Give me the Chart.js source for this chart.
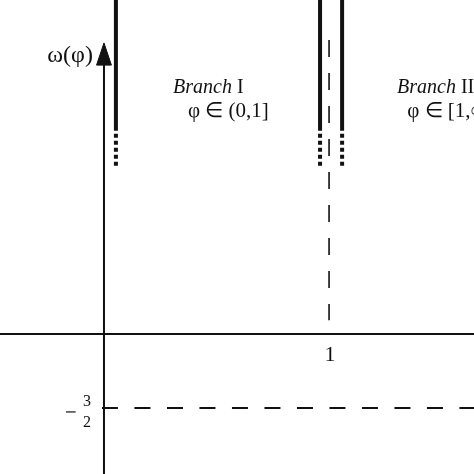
<!DOCTYPE html>
<html>
<head>
<meta charset="utf-8">
<script src="https://cdn.jsdelivr.net/npm/chart.js@4.4.1/dist/chart.umd.min.js"></script>
<style>
  html, body { margin: 0; padding: 0; background: #fff; }
  #wrap { width: 474px; height: 474px; position: relative; }
</style>
</head>
<body>
<div id="wrap"><canvas id="branchChart"></canvas></div>
<script>
// visible window of the (phi, omega) plane
const phiRange = [-0.462, 1.644];
const omegaRange = [-2.838, 6.77];

// thick branch lines: phi positions, solid part and dotted continuation
const branchPhi = [0.053, 0.96, 1.058];
const branchSolidOmega = [6.9, 4.12];
const branchDottedOmega = [4.12, 3.39];

// dashed asymptotes
const criticalPhi = 1;
const criticalOmega = [5.96, 0.28];
const limitOmega = -1.5;
const limitPhi = [-0.009, 1.644];

// vertical axis with arrow head
const yAxisOmega = [-2.838, 5.45];
const arrowTipOmega = 5.9;
const arrowHalfWidth = 0.033;

// labels
const axisLabel = "ω(φ)";
const branchNames = ["I", "II"];
const branchRanges = ["φ ∈ (0,1]", "φ ∈ [1,∞)"];
const tickLabels = ["1", "3", "2"];

const ink = "#111";

const datasets = [];

// horizontal axis
datasets.push({
    data: [{ x: phiRange[0], y: 0 }, { x: phiRange[1], y: 0 }],
    borderColor: ink, borderWidth: 2
});
// vertical axis
datasets.push({
    data: [{ x: 0, y: yAxisOmega[0] }, { x: 0, y: yAxisOmega[1] }],
    borderColor: ink, borderWidth: 2
});
// arrow head (filled triangle)
datasets.push({
    data: [
        { x: -arrowHalfWidth, y: yAxisOmega[1] },
        { x: arrowHalfWidth, y: yAxisOmega[1] },
        { x: 0, y: arrowTipOmega },
        { x: -arrowHalfWidth, y: yAxisOmega[1] }
    ],
    borderColor: ink, borderWidth: 1, backgroundColor: ink, fill: "shape"
});
// branch lines
branchPhi.forEach((p) => {
    datasets.push({
        data: [{ x: p, y: branchSolidOmega[0] }, { x: p, y: branchSolidOmega[1] }],
        borderColor: ink, borderWidth: 4
    });
    datasets.push({
        data: [{ x: p, y: branchDottedOmega[0] }, { x: p, y: branchDottedOmega[1] }],
        borderColor: ink, borderWidth: 4, borderDash: [4, 3], borderDashOffset: -3
    });
});
// dashed vertical at phi = 1
datasets.push({
    data: [{ x: criticalPhi, y: criticalOmega[0] }, { x: criticalPhi, y: criticalOmega[1] }],
    borderColor: ink, borderWidth: 1.6, borderDash: [17, 16]
});
// dashed horizontal at omega = -3/2
datasets.push({
    data: [{ x: limitPhi[0], y: limitOmega }, { x: limitPhi[1], y: limitOmega }],
    borderColor: ink, borderWidth: 2, borderDash: [16, 16.5]
});

datasets.forEach((d) => {
    d.showLine = true;
    d.pointRadius = 0;
    if (d.fill === undefined) d.fill = false;
});

// text annotations placed through the scales
const labelPlugin = {
    id: "labels",
    afterDatasetsDraw(chart) {
        const { ctx, scales: { x, y } } = chart;
        const px = (v) => x.getPixelForValue(v);
        const py = (v) => y.getPixelForValue(v);
        ctx.save();
        ctx.fillStyle = ink;

        // axis label
        ctx.font = "24px 'Liberation Serif', serif";
        ctx.textAlign = "right";
        ctx.textBaseline = "middle";
        ctx.fillText(axisLabel, px(-0.049), py(5.635));

        // branch titles
        const titleAt = [[0.307, 4.89], [1.302, 4.89]];
        const rangeAt = [[0.373, 4.40], [1.347, 4.40]];
        ctx.textAlign = "left";
        ctx.textBaseline = "alphabetic";
        branchNames.forEach((name, i) => {
            let cx = px(titleAt[i][0]);
            const cy = py(titleAt[i][1]);
            ctx.font = "italic 20px 'Liberation Serif', serif";
            ctx.fillText("Branch", cx, cy);
            cx += ctx.measureText("Branch ").width;
            ctx.font = "20px 'Liberation Serif', serif";
            ctx.fillText(name, cx, cy);
            ctx.font = "21px 'Liberation Serif', serif";
            ctx.fillText(branchRanges[i], px(rangeAt[i][0]), py(rangeAt[i][1]));
        });

        // tick "1"
        ctx.font = "22px 'Liberation Serif', serif";
        ctx.textAlign = "center";
        ctx.textBaseline = "middle";
        ctx.fillText(tickLabels[0], px(1.004), py(-0.43));

        // tick "-3/2"
        ctx.font = "16px 'Liberation Serif', serif";
        ctx.fillText(tickLabels[1], px(-0.076), py(-1.37));
        ctx.fillText(tickLabels[2], px(-0.076), py(-1.79));
        ctx.lineWidth = 1.2;
        ctx.strokeStyle = ink;
        ctx.beginPath();
        ctx.moveTo(px(-0.169), py(-1.58));
        ctx.lineTo(px(-0.126), py(-1.58));
        ctx.stroke();
        ctx.restore();
    }
};

new Chart(document.getElementById("branchChart"), {
    type: "scatter",
    data: { datasets },
    options: {
        responsive: true,
        maintainAspectRatio: false,
        animation: false,
        layout: { padding: 0 },
        plugins: {
            legend: { display: false },
            tooltip: { enabled: false }
        },
        scales: {
            x: { type: "linear", min: phiRange[0], max: phiRange[1], display: false },
            y: { type: "linear", min: omegaRange[0], max: omegaRange[1], display: false }
        }
    },
    plugins: [labelPlugin]
});
</script>
</body>
</html>
